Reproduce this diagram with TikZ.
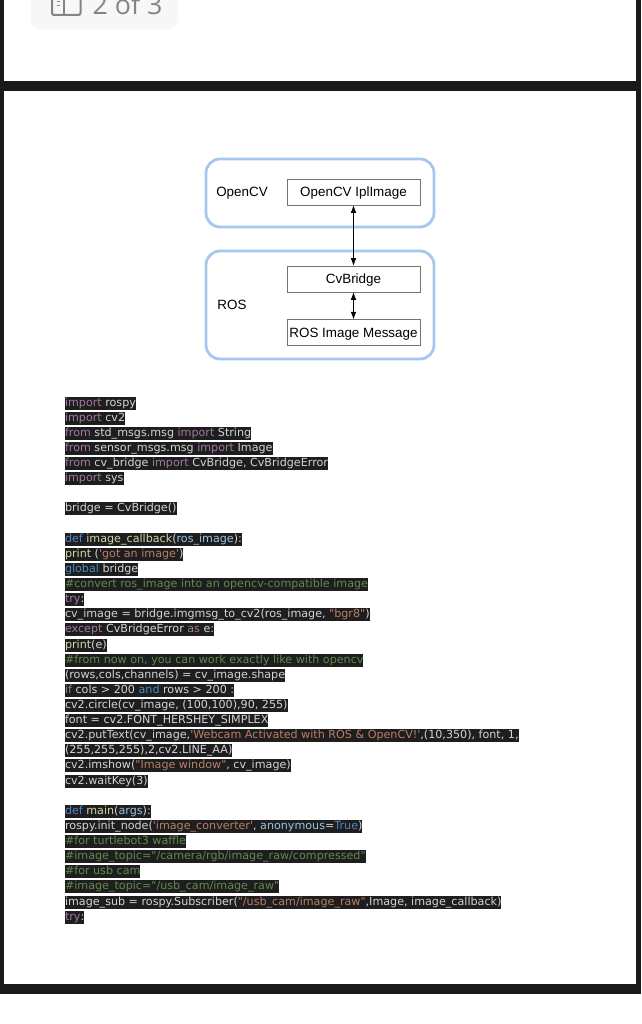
\documentclass[tikz,border=0pt]{standalone}
\usepackage{fontspec}
\setmainfont{Liberation Sans}
\newfontfamily\codefont{DejaVu Sans}
\newfontfamily\badgefont{Open Sans}
\usetikzlibrary{arrows.meta,positioning}
\definecolor{framecol}{HTML}{1A1A1A}
\definecolor{badgecol}{HTML}{F7F7F7}
\definecolor{badgetext}{HTML}{858585}
\definecolor{groupcol}{HTML}{A6C8F0}
\definecolor{codebg}{HTML}{1E1E1E}
\definecolor{codefg}{HTML}{D4D4D4}
\definecolor{kwcol}{HTML}{A078A0}
\definecolor{blcol}{HTML}{4F88BC}
\definecolor{cmcol}{HTML}{5F8A4E}
\definecolor{stcol}{HTML}{B87E66}
\definecolor{fncol}{HTML}{D4D4A8}
\definecolor{vrcol}{HTML}{98C4E4}
\newcommand{\kw}[1]{\textcolor{kwcol}{#1}}
\newcommand{\bl}[1]{\textcolor{blcol}{#1}}
\newcommand{\cm}[1]{\textcolor{cmcol}{#1}}
\newcommand{\st}[1]{\textcolor{stcol}{#1}}
\newcommand{\fn}[1]{\textcolor{fncol}{#1}}
\newcommand{\vr}[1]{\textcolor{vrcol}{#1}}

\begin{document}
\begin{tikzpicture}[>={Latex[length=7.5pt,width=5.5pt]}, x=1pt, y=-1pt]
    \tikzset{bar/.style= {fill=framecol, draw=none} }
    \tikzset{group/.style= {draw=groupcol, line width=2.8pt, rounded corners=14pt, fill=white} }
    \tikzset{tier/.style= {draw=black!55, line width=.6pt, minimum width=133pt, minimum height=26pt, inner sep=0pt, text height=9.5pt, text depth=.5pt, font={\fontsize{13.4}{16}\selectfont}} }
    \tikzset{side/.style= {inner sep=0pt, text height=9.5pt, text depth=.5pt, font={\fontsize{13.4}{16}\selectfont}} }
    \tikzset{code/.style= {fill=codebg, text=codefg, inner xsep=0pt, inner ysep=0pt, outer sep=0pt, text height=9.5pt, text depth=3.5pt, anchor=north west, font={\codefont\fontsize{11.14}{13}\selectfont}} }
    \tikzset{after/.style= {code, below=2.12pt of #1.south west, anchor=north west} }
    \tikzset{skip/.style= {code, below=17.24pt of #1.south west, anchor=north west} }

    \useasboundingbox (0,0) rectangle (641,1024);
    \clip (0,0) rectangle (641,1024);

    \fill[white] (0,0) rectangle (641,1024);
    \path[bar] (0,0) rectangle (4,984);
    \path[bar] (636,0) rectangle (641,984);
    \path[bar] (0,81) rectangle (641,91);
    \path[bar] (0,984) rectangle (641,994);

    \fill[badgecol, rounded corners=9pt] (31,-20) rectangle (178,29);
    \draw[badgetext, line width=2pt, rounded corners=2pt] (52,-10) rectangle (80.5,15);
    \draw[badgetext, line width=2pt] (63.5,-10) -- (63.5,15);
    \draw[badgetext, line width=1.5pt] (56.5,1.5) -- (60,1.5) (56.5,5.5) -- (60,5.5);
    \node[inner sep=0pt, text=badgetext, anchor=west, font={\badgefont\fontsize{26.8}{30}\selectfont}] (badge) at (92.5,4.5) {2 of 3};

    \path[group] (206,159) rectangle (434,227);
    \path[group] (206,251) rectangle (434,359);

    \node[tier] (ipl) at (353.5,192) {OpenCV IplImage};
    \node[tier] (bridge) at (353.5,279) {CvBridge};
    \node[tier] (msg) [below= 27pt of bridge] {ROS Image Message};
    \node[side] (opencv) at (242,192) {OpenCV};
    \node[side] (ros) at (232,305) {ROS};

    \path[draw, <->, line width=.6pt] (ipl) -- (bridge);
    \path[draw, <->, line width=.6pt] (bridge) -- (msg);

    \node[code] (l1) at (65,396.6) {\kw{import} rospy};
    \node[after=l1] (l2) {\kw{import} cv2};
    \node[after=l2] (l3) {\kw{from} std\_msgs.msg \kw{import} String};
    \node[after=l3] (l4) {\kw{from} sensor\_msgs.msg \kw{import} Image};
    \node[after=l4] (l5) {\kw{from} cv\_bridge \kw{import} CvBridge, CvBridgeError};
    \node[after=l5] (l6) {\kw{import} sys};
    \node[skip=l6] (l7) {bridge = CvBridge()};
    \node[skip=l7] (l8) {\bl{def} \fn{image\_callback}(\vr{ros\_image}):};
    \node[after=l8] (l9) {\fn{print} (\st{'got an image'})};
    \node[after=l9] (l10) {\bl{global} bridge};
    \node[after=l10] (l11) {\cm{\#convert ros\_image into an opencv-compatible image}};
    \node[after=l11] (l12) {\kw{try}:};
    \node[after=l12] (l13) {cv\_image = bridge.imgmsg\_to\_cv2(ros\_image, \st{"bgr8"})};
    \node[after=l13] (l14) {\kw{except} CvBridgeError \kw{as} e:};
    \node[after=l14] (l15) {\fn{print}(e)};
    \node[after=l15] (l16) {\cm{\#from now on, you can work exactly like with opencv}};
    \node[after=l16] (l17) {(rows,cols,channels) = cv\_image.shape};
    \node[after=l17] (l18) {\kw{if} cols > 200 \bl{and} rows > 200 :};
    \node[after=l18] (l19) {cv2.circle(cv\_image, (100,100),90, 255)};
    \node[after=l19] (l20) {font = cv2.FONT\_HERSHEY\_SIMPLEX};
    \node[after=l20] (l21) {cv2.putText(cv\_image,\st{'Webcam Activated with ROS \& OpenCV!'},(10,350), font, 1,};
    \node[after=l21] (l22) {(255,255,255),2,cv2.LINE\_AA)};
    \node[after=l22] (l23) {cv2.imshow(\st{"Image window"}, cv\_image)};
    \node[after=l23] (l24) {cv2.waitKey(3)};
    \node[skip=l24] (l25) {\bl{def} \fn{main}(\vr{args}):};
    \node[after=l25] (l26) {rospy.init\_node(\st{'image\_converter'}, \vr{anonymous}=\bl{True})};
    \node[after=l26] (l27) {\cm{\#for turtlebot3 waffle}};
    \node[after=l27] (l28) {\cm{\#image\_topic="/camera/rgb/image\_raw/compressed"}};
    \node[after=l28] (l29) {\cm{\#for usb cam}};
    \node[after=l29] (l30) {\cm{\#image\_topic="/usb\_cam/image\_raw"}};
    \node[after=l30] (l31) {image\_sub = rospy.Subscriber(\st{"/usb\_cam/image\_raw"},Image, image\_callback)};
    \node[after=l31] (l32) {\kw{try}:};
\end{tikzpicture}
\end{document}
